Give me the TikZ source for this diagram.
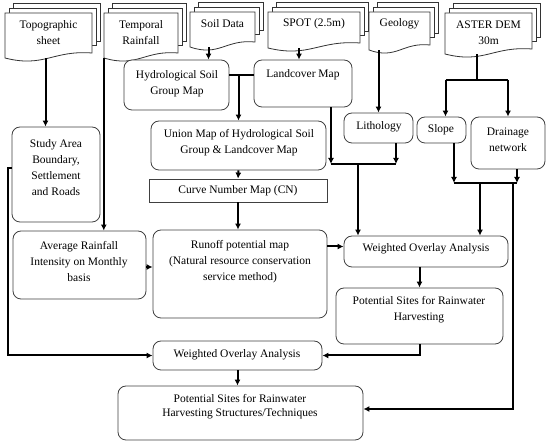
\documentclass[tikz,border=0pt]{standalone}
\usepackage{fontspec}
\setmainfont{Liberation Serif}
\usepackage{tikz}
\usetikzlibrary{calc, positioning, arrows.meta, fit}
\tikzset{
    rbox/.style={rectangle, draw=black!75, rounded corners=8pt, fill=white, inner sep=0pt, line width=0.8pt},
    sbox/.style={rectangle, draw=black!75, fill=white, inner sep=0pt, line width=0.8pt},
    txt/.style={align=center, font=\fontsize{11.5}{16}\selectfont, inner sep=0pt},
    docline/.style={draw=black!80, fill=white, line width=0.8pt},
    arrow/.style={-{Latex[length=6pt, width=6pt]}, line width=2pt},
    link/.style={line width=2pt}
}
% stacked source documents: name, x1, y1, x2, bottom, text y, text
\newcommand{\docstack}[7]{%
    \foreach \k in {2,1} {
        \draw[docline] ({#2+4*\k},{#3-5*\k}) rectangle ({#4+4*\k},{#5-9-4*\k});
    }
    \draw[docline] (#2,#3) -- (#4,#3) -- (#4,{#5-5})
        .. controls ({#2+0.55*(#4-#2)},{#5-8}) and ({#2+0.45*(#4-#2)},{#5+10}) .. (#2,#5) -- cycle;
    \node[inner sep=0pt, fit={(#2,#3) (#4,#5)}] (#1) {};
    \node[txt] (#1-txt) at ({(#2+#4)/2},#6) {#7};
}

\begin{document}
\begin{tikzpicture}[x=1pt, y=-1pt]
        \useasboundingbox (0,0) rectangle (550,443);

        % Source documents
        \docstack{topo}{5}{13}{92}{58}{33}{Topographic\\sheet}
        \docstack{rain}{104}{13}{178}{58}{33}{Temporal\\Rainfall}
        \docstack{soil}{190}{12}{255}{47}{24}{Soil Data}
        \docstack{spot}{268}{12}{360}{48}{24}{SPOT (2.5m)}
        \docstack{geol}{369}{12}{430}{50}{24}{Geology}
        \docstack{aster}{445}{13}{532}{54}{33}{ASTER DEM\\30m}

        % Boxes
        \node[rbox, fit={(124,60) (229,110)}] (hsg) {};
        \node[rbox, fit={(254,60) (352,107)}] (lc) {};
        \node[rbox, fit={(151,121) (326,170)}] (union) {};
        \node[sbox, fit={(149,179) (327,202)}] (cn) {};
        \node[rbox, fit={(344,113) (413,143)}] (litho) {};
        \node[rbox, fit={(417,117) (466,143)}] (slope) {};
        \node[rbox, fit={(471,117) (545,169)}] (drain) {};
        \node[rbox, fit={(12,127) (100,222)}] (study) {};
        \node[rbox, fit={(13,231) (146,299)}] (avg) {};
        \node[rbox, fit={(153,230) (327,318)}] (runoff) {};
        \node[rbox, fit={(344,236) (508,267)}] (woa1) {};
        \node[rbox, fit={(336,288) (503,344)}] (pot) {};
        \node[rbox, fit={(153,341) (322,370)}] (woa2) {};
        \node[rbox, fit={(118,386) (363,440)}] (final) {};

        % Box texts
        \node[txt] (hsg-txt) at (177,84) {Hydrological Soil\\Group Map};
        \node[txt] (lc-txt) at (303,75) {Landcover Map};
        \node[txt] (union-txt) at (239,143) {Union Map of Hydrological Soil\\Group \& Landcover Map};
        \node[txt] (cn-txt) at (238,191) {Curve Number Map (CN)};
        \node[txt] (litho-txt) at (379,127) {Lithology};
        \node[txt] (slope-txt) at (441,130) {Slope};
        \node[txt] (drain-txt) at (508,140) {Drainage\\network};
        \node[txt] (study-txt) at (56,168) {Study Area\\Boundary,\\Settlement\\and Roads};
        \node[txt] (avg-txt) at (79,262) {Average Rainfall\\Intensity on Monthly\\basis};
        \node[txt] (runoff-txt) at (240,262) {Runoff potential map\\(Natural resource conservation\\service method)};
        \node[txt] (woa1-txt) at (426,249) {Weighted Overlay Analysis};
        \node[txt] (pot-txt) at (419,310) {Potential Sites for Rainwater\\Harvesting};
        \node[txt] (woa2-txt) at (237,355) {Weighted Overlay Analysis};
        \node[txt] (final-txt) at (240,407) {Potential Sites for Rainwater\\[-2pt]Harvesting Structures/Techniques};

        % Junctions
        \coordinate (hsgj) at ([yshift=10pt]hsg.east);
        \coordinate (demj) at (477,80);
        \coordinate (lcj) at (331,164);
        \coordinate (lij) at (396,164);
        \coordinate (lw) at (358,164);
        \coordinate (sj) at (454,183);
        \coordinate (dj) at (517,183);
        \coordinate (sw) at (480,183);
        \coordinate (rj) at (513,183);

        % Connectors
        \draw[arrow] ([xshift=-3pt]topo.south) -- ([xshift=-3pt]topo.south |- study.north);
        \draw[arrow] (rain.south west) -- (rain.south west |- avg.north);
        \draw[arrow] ([xshift=-14pt]soil.south) -- ([xshift=-14pt]soil.south |- hsg.north);
        \draw[arrow] ([xshift=-15pt]spot.south) -- ([xshift=-15pt]spot.south |- lc.north);
        \draw[link] (hsgj) -- (hsgj -| lc.west);
        \draw[arrow] (hsgj -| union.north) -- (union.north);
        \draw[arrow] (union.south) -- (cn.north);
        \draw[arrow] (cn.south) -- (cn.south |- runoff.north);
        \draw[arrow] (litho.north |- geol.south) -- (litho.north);
        \draw[link] (demj |- aster.south) -- (demj);
        \draw[link] ([xshift=4pt]slope.north |- demj) -- (drain.north |- demj);
        \draw[arrow] ([xshift=4pt]slope.north |- demj) -- ([xshift=4pt]slope.north);
        \draw[arrow] (drain.north |- demj) -- (drain.north);
        \draw[arrow] (lcj |- lc.south) -- (lcj);
        \draw[arrow] (lij |- litho.south) -- (lij);
        \draw[link] (lcj) -- (lij);
        \draw[arrow] (lw) -- (lw |- woa1.north);
        \draw[arrow] (sj |- slope.south) -- (sj);
        \draw[arrow] (dj |- drain.south) -- (dj);
        \draw[link] (sj) -- (dj);
        \draw[arrow] (sw) -- (sw |- woa1.north);
        \draw[arrow] (rj) |- ([yshift=4pt]final.east);
        \draw[arrow] ([yshift=-2pt]avg.east) -- ([yshift=-2pt]avg.east -| runoff.west);
        \draw[arrow] ([yshift=5pt]woa1.west -| runoff.east) -- ([yshift=5pt]woa1.west);
        \draw[arrow] (pot.north |- woa1.south) -- (pot.north);
        \draw[arrow] (pot.south) |- (woa2.east);
        \draw[arrow] ([yshift=6pt]study.west) -- ++(-4,0) |- (woa2.west);
        \draw[arrow] (woa2.south) -- (woa2.south |- final.north);
    \end{tikzpicture}
\end{document}
